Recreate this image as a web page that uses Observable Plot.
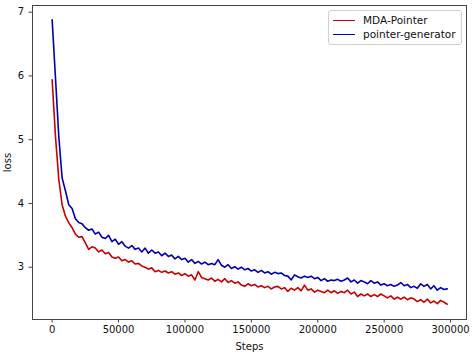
<!DOCTYPE html>
<html>
<head>
<meta charset="utf-8">
<script src="https://cdn.jsdelivr.net/npm/d3@7"></script>
<script src="https://cdn.jsdelivr.net/npm/@observablehq/plot@0.6"></script>
<style>
  html, body { margin: 0; padding: 0; background: #fff; }
  #wrap { position: relative; width: 474px; height: 355px; font-family: "DejaVu Sans", sans-serif; }
  #legend { position: absolute; left: 328px; top: 10px; width: 134px; height: 35px; box-sizing: border-box;
    border: 1px solid #d0d0d0; border-radius: 3px; background: rgba(255,255,255,0.85); font-size: 10.5px; color: #111; }
  .item { position: absolute; left: 0; height: 12px; line-height: 12px; white-space: nowrap; }
  .swatch { position: absolute; left: 4px; top: 6px; width: 22px; height: 0; border-top: 1.5px solid; }
  .lab { position: absolute; left: 34px; top: 0; }
</style>
</head>
<body>
<div id="wrap"></div>
<script>
// Series names
const seriesNames = ["MDA-Pointer", "pointer-generator"];
const seriesColors = ["#c80000", "#0000b0"];

// Training steps (every 2500 steps)
const steps = d3.range(0, 300000, 2500);

// MDA-Pointer loss
const mdaLoss = [
  5.94, 5.05, 4.38, 3.98, 3.80, 3.70, 3.62, 3.52, 3.47, 3.48,
  3.38, 3.28, 3.32, 3.30, 3.24, 3.27, 3.21, 3.23, 3.16, 3.14,
  3.16, 3.10, 3.12, 3.08, 3.10, 3.05, 3.06, 3.02, 3.00, 2.97,
  2.99, 2.93, 2.95, 2.92, 2.94, 2.91, 2.93, 2.89, 2.91, 2.87,
  2.90, 2.86, 2.88, 2.80, 2.93, 2.84, 2.82, 2.80, 2.83, 2.78,
  2.81, 2.77, 2.82, 2.76, 2.79, 2.75, 2.77, 2.72, 2.70, 2.74,
  2.71, 2.73, 2.69, 2.71, 2.68, 2.70, 2.66, 2.69, 2.70, 2.66,
  2.68, 2.62, 2.67, 2.64, 2.68, 2.63, 2.72, 2.64, 2.66, 2.61,
  2.64, 2.62, 2.60, 2.64, 2.60, 2.63, 2.59, 2.62, 2.60, 2.64,
  2.58, 2.61, 2.54, 2.58, 2.55, 2.58, 2.54, 2.57, 2.54, 2.58,
  2.55, 2.52, 2.55, 2.50, 2.53, 2.50, 2.53, 2.49, 2.52, 2.50,
  2.46, 2.49, 2.45, 2.50, 2.44, 2.47, 2.43, 2.48, 2.45, 2.42
];

// pointer-generator loss
const pgLoss = [
  6.88, 5.97, 5.05, 4.40, 4.20, 3.98, 3.92, 3.76, 3.70, 3.68,
  3.62, 3.58, 3.60, 3.52, 3.55, 3.47, 3.45, 3.50, 3.40, 3.44,
  3.36, 3.40, 3.33, 3.30, 3.34, 3.28, 3.30, 3.24, 3.30, 3.22,
  3.27, 3.22, 3.24, 3.18, 3.22, 3.17, 3.19, 3.13, 3.17, 3.12,
  3.14, 3.08, 3.12, 3.06, 3.09, 3.05, 3.08, 3.04, 3.06, 3.04,
  3.12, 3.03, 3.00, 3.04, 2.98, 3.01, 2.97, 3.00, 2.96, 2.98,
  2.94, 2.96, 2.92, 2.95, 2.91, 2.93, 2.89, 2.92, 2.90, 2.91,
  2.87, 2.86, 2.80, 2.88, 2.85, 2.83, 2.86, 2.84, 2.86, 2.82,
  2.84, 2.79, 2.82, 2.78, 2.80, 2.79, 2.81, 2.78, 2.80, 2.83,
  2.77, 2.80, 2.75, 2.79, 2.77, 2.74, 2.79, 2.75, 2.77, 2.72,
  2.74, 2.71, 2.73, 2.70, 2.72, 2.76, 2.71, 2.73, 2.68, 2.70,
  2.67, 2.74, 2.70, 2.73, 2.66, 2.71, 2.64, 2.68, 2.65, 2.66
];

const xTicks = [0, 50000, 100000, 150000, 200000, 250000, 300000];
const yTicks = [3, 4, 5, 6, 7];

const rows = [];
steps.forEach((s, i) => {
  rows.push({step: s, loss: mdaLoss[i], series: seriesNames[0]});
  rows.push({step: s, loss: pgLoss[i], series: seriesNames[1]});
});

const chart = Plot.plot({
  width: 474,
  height: 355,
  marginLeft: 32,
  marginRight: 8,
  marginTop: 5,
  marginBottom: 36,
  style: {fontFamily: "DejaVu Sans, sans-serif", fontSize: "10px", color: "#111", background: "white"},
  x: {domain: [-14800, 312000]},
  y: {domain: [2.18, 7.105]},
  color: {domain: seriesNames, range: seriesColors},
  marks: [
    Plot.line(rows, {x: "step", y: "loss", z: "series", stroke: "series", strokeWidth: 1.6}),
    Plot.frame({stroke: "#444", strokeWidth: 1}),
    Plot.axisX({ticks: xTicks, tickFormat: d3.format("d"), tickSize: 3.5, tickPadding: 3,
      label: "Steps", labelAnchor: "center", labelArrow: "none", labelOffset: 30, stroke: "#444"}),
    Plot.axisY({ticks: yTicks, tickFormat: d3.format("d"), tickSize: 3.5, tickPadding: 5,
      label: "loss", labelAnchor: "center", labelArrow: "none", labelOffset: 29, stroke: "#444"})
  ]
});

const wrap = document.getElementById("wrap");
wrap.appendChild(chart);

const legend = document.createElement("div");
legend.id = "legend";
seriesNames.forEach((name, i) => {
  const item = document.createElement("div");
  item.className = "item";
  item.style.top = (3 + i * 14) + "px";
  item.style.width = "100%";
  const sw = document.createElement("span");
  sw.className = "swatch";
  sw.style.borderTopColor = seriesColors[i];
  const lab = document.createElement("span");
  lab.className = "lab";
  lab.textContent = name;
  item.appendChild(sw);
  item.appendChild(lab);
  legend.appendChild(item);
});
wrap.appendChild(legend);
</script>
</body>
</html>
